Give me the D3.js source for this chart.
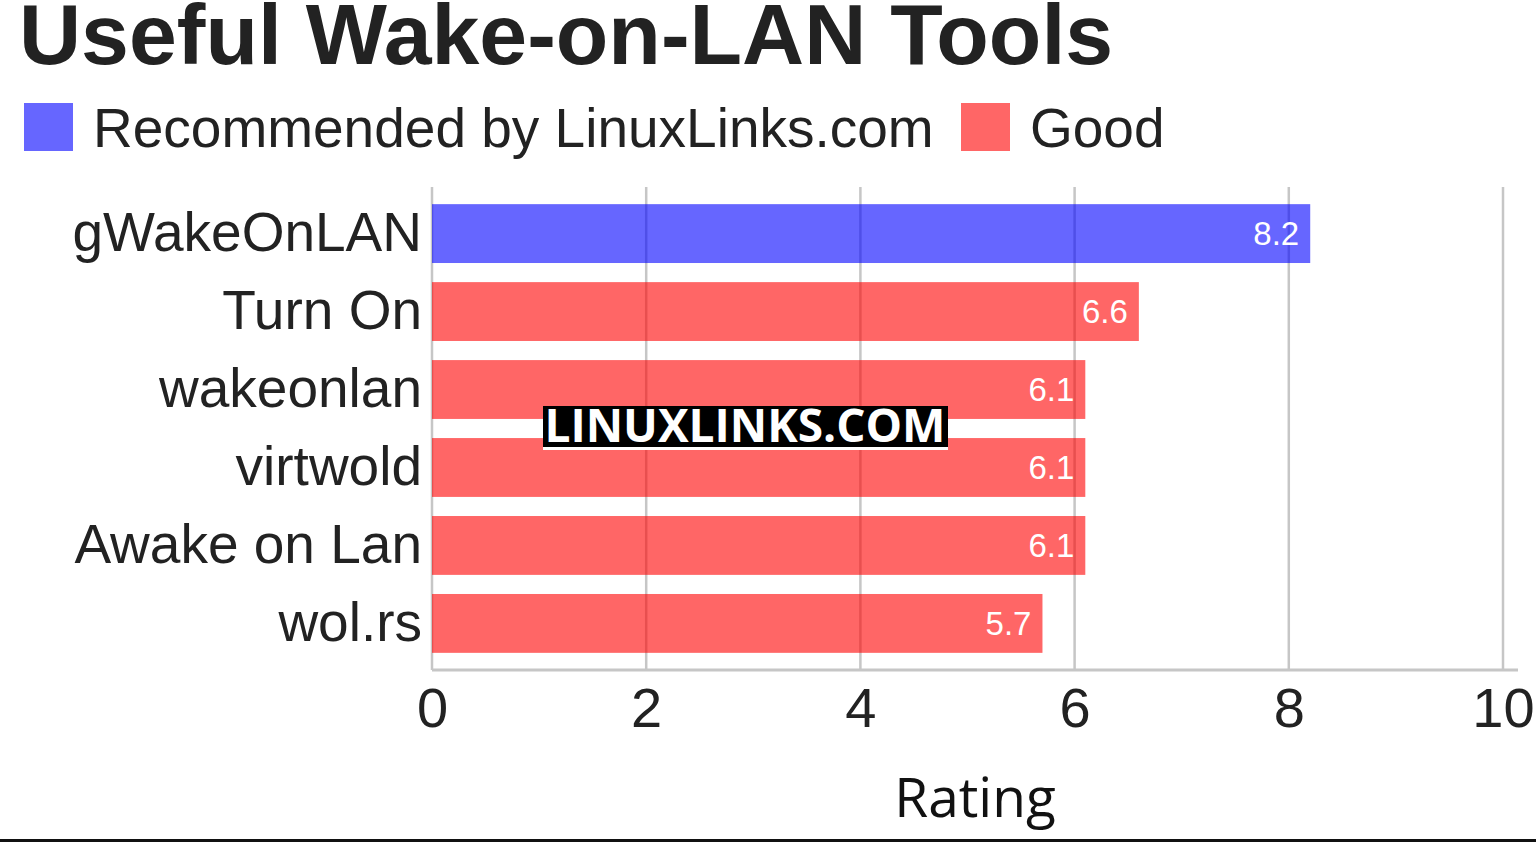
<!DOCTYPE html>
<html>
<head>
<meta charset="utf-8">
<script src="https://cdn.jsdelivr.net/npm/d3@7"></script>
<style>
  html, body { margin: 0; padding: 0; background: #fff; }
  svg { display: block; }
</style>
</head>
<body>
<svg id="chart" width="1536" height="842"></svg>
<script>
// ---- data ----
const categories = ["gWakeOnLAN", "Turn On", "wakeonlan", "virtwold", "Awake on Lan", "wol.rs"];
const ratings = [8.2, 6.6, 6.1, 6.1, 6.1, 5.7];
const groups = ["Recommended", "Good", "Good", "Good", "Good", "Good"];
const legendLabels = ["Recommended by LinuxLinks.com", "Good"];
const legendKeys = ["Recommended", "Good"];
const tickValues = [0, 2, 4, 6, 8, 10];
const titleText = "Useful Wake-on-LAN Tools";
const axisTitle = "Rating";
const watermark = "LINUXLINKS.COM";

// ---- layout ----
const W = 1536, H = 842;
const plot = { left: 432, right: 1503, top: 187, bottom: 670 };
const color = d3.scaleOrdinal(legendKeys, ["rgba(0,0,255,0.6)", "rgba(255,0,0,0.6)"]);
const legendSwatch = d3.scaleOrdinal(legendKeys, ["#6666ff", "#ff6666"]);
const textColor = "#222";
const gridColor = "#c6c6c6";

const svg = d3.select("#chart");
svg.append("rect").attr("width", W).attr("height", H).attr("fill", "#fff");

const x = d3.scaleLinear().domain([0, 10]).range([plot.left, plot.right]);
const y = d3.scaleBand().domain(categories).range([plot.top, plot.bottom])
  .paddingInner(0.245).paddingOuter(0.22);

// title
svg.append("text")
  .attr("x", 19).attr("y", 64)
  .attr("font-family", "'Liberation Sans', Arial, sans-serif")
  .attr("font-weight", "bold").attr("font-size", 86)
  .attr("fill", textColor)
  .text(titleText);

// legend
const legendPos = [{ sx: 24, tx: 93 }, { sx: 961, tx: 1030 }];
const lg = svg.append("g");
legendKeys.forEach((k, i) => {
  lg.append("rect").attr("x", legendPos[i].sx).attr("y", 103)
    .attr("width", 49).attr("height", 48).attr("fill", legendSwatch(k));
  lg.append("text").attr("x", legendPos[i].tx).attr("y", 147)
    .attr("font-family", "'Liberation Sans', Arial, sans-serif")
    .attr("font-size", 55).attr("fill", textColor)
    .text(legendLabels[i]);
});

// grid lines
svg.append("g").selectAll("line").data(tickValues.filter(t => t > 0)).join("line")
  .attr("x1", d => x(d)).attr("x2", d => x(d))
  .attr("y1", plot.top).attr("y2", plot.bottom)
  .attr("stroke", gridColor).attr("stroke-width", 2.5);

// left axis line
svg.append("line").attr("x1", plot.left).attr("x2", plot.left)
  .attr("y1", plot.top).attr("y2", plot.bottom)
  .attr("stroke", gridColor).attr("stroke-width", 2.5);

// bars
svg.append("g").selectAll("rect").data(categories).join("rect")
  .attr("x", x(0))
  .attr("y", d => y(d))
  .attr("width", (d, i) => x(ratings[i]) - x(0))
  .attr("height", y.bandwidth())
  .attr("fill", (d, i) => color(groups[i]));

// value labels
svg.append("g").selectAll("text").data(categories).join("text")
  .attr("x", (d, i) => x(ratings[i]) - 11)
  .attr("y", d => y(d) + y.bandwidth() / 2)
  .attr("dy", "0.36em")
  .attr("text-anchor", "end")
  .attr("font-family", "'Liberation Sans', Arial, sans-serif")
  .attr("font-size", 33).attr("fill", "#fff")
  .text((d, i) => ratings[i].toFixed(1));

// bottom axis line
svg.append("line").attr("x1", plot.left).attr("x2", 1518)
  .attr("y1", plot.bottom).attr("y2", plot.bottom)
  .attr("stroke", gridColor).attr("stroke-width", 3);

// x axis
const xAxis = svg.append("g")
  .attr("transform", `translate(0,${plot.bottom})`)
  .call(d3.axisBottom(x).tickValues(tickValues).tickSize(0).tickPadding(17).tickFormat(d3.format("d")));
xAxis.select(".domain").remove();
xAxis.selectAll("text")
  .attr("font-family", "'Liberation Sans', Arial, sans-serif")
  .attr("font-size", 56).attr("fill", textColor);

// y axis
const yAxis = svg.append("g")
  .attr("transform", `translate(${plot.left},0)`)
  .call(d3.axisLeft(y).tickSize(0).tickPadding(10));
yAxis.select(".domain").remove();
yAxis.selectAll("text")
  .attr("font-family", "'Liberation Sans', Arial, sans-serif")
  .attr("font-size", 55).attr("fill", textColor);

// axis title
svg.append("text")
  .attr("x", 975).attr("y", 817)
  .attr("text-anchor", "middle")
  .attr("font-family", "'Open Sans', 'Noto Sans', sans-serif")
  .attr("font-size", 55).attr("fill", "#111")
  .text(axisTitle);

// watermark
const wm = svg.append("g");
wm.append("rect").attr("fill", "#fff")
  .attr("x", 543).attr("y", 406).attr("width", 405).attr("height", 44);
wm.append("rect").attr("fill", "#000")
  .attr("x", 543).attr("y", 406).attr("width", 405).attr("height", 41);
wm.append("text")
  .attr("x", 745).attr("y", 442)
  .attr("text-anchor", "middle")
  .attr("font-family", "'Open Sans', 'Noto Sans', sans-serif")
  .attr("font-weight", "bold").attr("font-size", 46)
  .attr("fill", "#fff")
  .text(watermark);

// bottom rule
svg.append("line").attr("x1", 0).attr("x2", W)
  .attr("y1", 840.5).attr("y2", 840.5)
  .attr("stroke", "#111").attr("stroke-width", 3);
</script>
</body>
</html>
